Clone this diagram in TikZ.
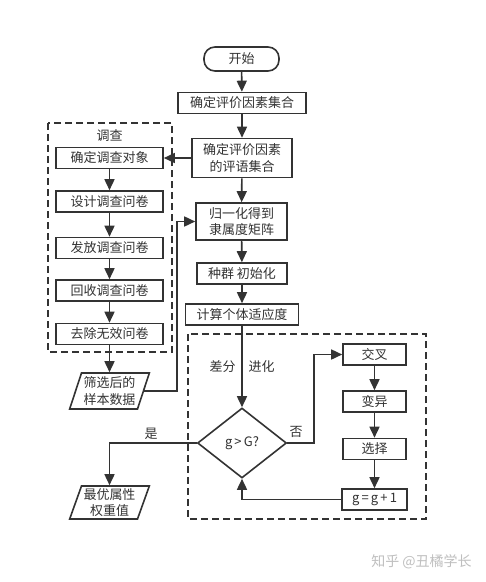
\documentclass[tikz,border=0pt]{standalone}
\usepackage{fontspec}
\setmainfont{Noto Sans CJK SC}
\usepackage{tikz}
\usetikzlibrary{shapes.geometric,arrows.meta}
\definecolor{ink}{HTML}{333333}
\tikzset{basic/.style={draw=ink,line width=1.6pt,text=ink,inner sep=2pt,
                       align=center,font=\fontsize{13}{16.5}\selectfont}}
\tikzset{proc/.style={basic,rectangle,minimum height=21pt}}
\tikzset{term/.style={basic,rectangle,rounded corners=11pt}}
\tikzset{io/.style={basic,trapezium,trapezium left angle=70,trapezium right angle=110,
                    trapezium stretches body}}
\tikzset{decide/.style={basic,diamond,minimum width=89pt,minimum height=70pt}}
\tikzset{arr/.style={draw=ink,line width=1.6pt,-{Triangle[length=11pt,width=10pt]}}}
\tikzset{dashbox/.style={draw=ink,line width=1.6pt,dash pattern=on 7pt off 4pt}}
\tikzset{lbl/.style={text=ink,font=\fontsize{13}{15}\selectfont}}

\begin{document}
\begin{tikzpicture}[x=1pt,y=-1pt]
    \useasboundingbox[fill=white] (0,0) rectangle (486,582);

    % main column
    \node[term,minimum width=75pt,minimum height=24pt] (start) at (241.5,59) {开始};
    \node[proc,minimum width=128pt] (factors) at (242,103) {确定评价因素集合};
    \node[proc,minimum width=100pt,minimum height=39pt] (remarks) at (242,158) {确定评价因素\\的评语集合};
    \node[proc,minimum width=91pt,minimum height=37pt] (norm) at (241.5,221.5) {归一化得到\\隶属度矩阵};
    \node[proc,minimum width=90pt] (init) at (242,273.5) {种群 初始化};
    \node[proc,minimum width=113pt] (fit) at (242,314.5) {计算个体适应度};
    \node[decide] (dec) at (242,443) {g\,>\,G?};

    % survey column
    \draw[dashbox] (48,123) rectangle (172,352);
    \node[lbl] (survey) at (109.5,136) {调查};
    \node[proc,minimum width=107pt] (object) at (109.5,158) {确定调查对象};
    \node[proc,minimum width=107pt] (design) at (109.5,201.5) {设计调查问卷};
    \node[proc,minimum width=107pt] (issue) at (109.5,248) {发放调查问卷};
    \node[proc,minimum width=107pt] (collect) at (109.5,290.5) {回收调查问卷};
    \node[proc,minimum width=107pt] (remove) at (109.5,334) {去除无效问卷};
    \node[io,minimum width=79pt,minimum height=36pt] (sample) at (109.5,391) {筛选后的\\样本数据};
    \node[io,minimum width=77pt,minimum height=33pt] (best) at (109.5,502.5) {最优属性\\权重值};

    % evolution loop
    \draw[dashbox] (188,334) rectangle (426,519);
    \node[proc,minimum width=63pt] (cross) at (374.5,354.5) {交叉};
    \node[proc,minimum width=63pt] (mut) at (374.5,401.5) {变异};
    \node[proc,minimum width=63pt] (sel) at (374.5,449) {选择};
    \node[proc,minimum width=65pt] (inc) at (374.5,499.5) {g\,=\,g\,+\,1};

    \coordinate (j1) at (177,0);
    \coordinate (j2) at (314,0);

    \draw[arr] (start) -- (factors);
    \draw[arr] (factors) -- (remarks);
    \draw[arr] (remarks) -- (object);
    \draw[arr] (remarks) -- (norm);
    \draw[arr] (norm) -- (init);
    \draw[arr] (init) -- (fit);
    \draw[arr] (fit) -- node[lbl] (evo) {差分\quad 进化} (dec);

    \draw[arr] (object) -- (design);
    \draw[arr] (design) -- (issue);
    \draw[arr] (issue) -- (collect);
    \draw[arr] (collect) -- (remove);
    \draw[arr] (remove) -- (sample);
    \draw[arr] (sample.east) -- (sample.east -| j1) |- (norm.west);

    \draw[arr] (dec.east) -- (dec.east -| j2) |- (cross.west);
    \draw[arr] (cross) -- (mut);
    \draw[arr] (mut) -- (sel);
    \draw[arr] (sel) -- (inc);
    \draw[arr] (inc) -| (dec);
    \draw[arr] (dec) -| (best);

    \node[lbl] (yes) at (151,434) {是};
    \node[lbl] (no) at (296,432) {否};

    % watermark
    \node[text=black!25,font=\fontsize{14}{16}\selectfont] (mark) at (421.5,562) {知乎 @丑橘学长};
\end{tikzpicture}
\end{document}
